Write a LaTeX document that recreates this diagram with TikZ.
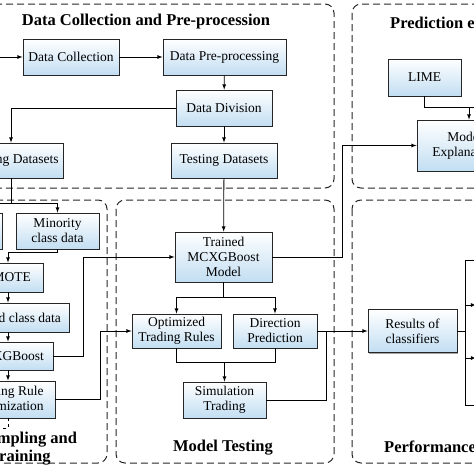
\documentclass[tikz,border=0pt]{standalone}
\usepackage{fontspec}
\setmainfont{Liberation Serif}
\usepackage{tikz}
\usetikzlibrary{calc}
\usetikzlibrary{arrows, shapes}
\usetikzlibrary{shadows}
\definecolor{boxblue}{rgb}{0.76,0.87,0.95}

\begin{document}
\begin{tikzpicture}[x=1pt, y=-1pt]
\tikzstyle{block}=[rectangle, draw=black!85, line width=.8, top color=white, bottom color=boxblue, drop shadow={shadow xshift=1.3pt, shadow yshift=-1.3pt, fill=black!60, opacity=.6}, align=center, font=\fontsize{13.5}{15}\selectfont, inner sep=1pt]
\tikzstyle{group}=[draw=black!85, dash pattern=on 7pt off 4pt, line width=1, rounded corners=9pt]
\tikzstyle{title}=[font=\fontsize{16.5}{18}\selectfont\bfseries, align=center, inner sep=0pt]
\tikzstyle{link}=[->, >=latex, line width=.8]

\useasboundingbox (0,0) rectangle (474,474);
\clip (0,0) rectangle (474,474);

% dashed stages
\draw[group] (-10,4) rectangle (334,188);
\draw[group] (352,4) rectangle (495,188);
\draw[group] (-10,200) rectangle (107,463);
\draw[group] (116,200) rectangle (334,463);
\draw[group] (352,200) rectangle (495,463);

\path (146,22) node[title](T1) {Data Collection and Pre-procession}
	  (390,25) node[title, anchor=west](T2) {Prediction explanation}
	  (20,449) node[title](T3) {Resampling and\\Training}
	  (223,448) node[title](T4) {Model Testing}
	  (384,447) node[title, anchor=west](T5) {Performance evaluation};

\path (71,57) node[block, minimum width=96, minimum height=36](DC) {Data Collection}
	  (224.5,57) node[block, minimum width=123, minimum height=36](DP) {Data Pre-processing}
	  (224,108) node[block, minimum width=96, minimum height=36](DD) {Data Division}
	  (11,160.5) node[block, minimum width=104, minimum height=35](TrD) {Training Datasets}
	  (224,160.5) node[block, minimum width=106, minimum height=35](TeD) {Testing Datasets}
	  (424.5,77.5) node[block, minimum width=73, minimum height=37](LIME) {LIME}
	  (465,145.5) node[block, minimum width=96, minimum height=51](ME) {Model\\Explanation}
	  (-40,231) node[block, minimum width=84, minimum height=36](Maj) {Majority\\class data}
	  (57.5,231) node[block, minimum width=83, minimum height=36](Min) {Minority\\class data}
	  (8,277.5) node[block, minimum width=70, minimum height=29](SM) {SMOTE}
	  (8,317.5) node[block, minimum width=122, minimum height=29](BC) {Balanced class data}
	  (8,356) node[block, minimum width=90, minimum height=28](MX) {MCXGBoost}
	  (8,399.5) node[block, minimum width=94, minimum height=37](TRO) {Trading Rule\\Optimization}
	  (223.5,257) node[block, minimum width=97, minimum height=50](TM) {Trained\\MCXGBoost\\Model}
	  (176.5,331) node[block, minimum width=89, minimum height=34](OTR) {Optimized\\Trading Rules}
	  (275,331) node[block, minimum width=84, minimum height=34](DiP) {Direction\\Prediction}
	  (224.5,400) node[block, minimum width=83, minimum height=36](ST) {Simulation\\Trading}
	  (412.5,331) node[block, minimum width=89, minimum height=43](RC) {Results of\\classifiers};

\coordinate (in) at (-10,57);
\coordinate (j1) at (11,203);
\coordinate (j2) at (224.5,362);
\coordinate (j3) at (326,331);
\coordinate (j4) at (469,107);
\coordinate (e5) at (495,107);
\coordinate (r0) at (465,331);
\coordinate (b1) at (465,260);
\coordinate (b2) at (465,305);
\coordinate (b3) at (465,358);
\coordinate (b4) at (465,405);
\coordinate (e1) at (495,260);
\coordinate (e2) at (476,305);
\coordinate (e3) at (476,358);
\coordinate (e4) at (495,405);

\draw[link] (in) -- (DC);
\draw[link] (DC) -- (DP);
\draw[link] (DP) -- (DD);
\draw[link] (DD) -| (TrD);
\draw[link] (DD) -- (TeD);
\draw[link] (TeD) -- (TM);
\draw[link] (TrD) -- (j1) -| (Min);
\draw[link] (j1) -| (Maj);
\draw[link] (Min.south) -- ++(0,3) -| (SM.north);
\draw[link] (SM) -- (BC);
\draw[link] (BC) -- (MX);
\draw[link] (MX) -- (TRO);
\draw[dashed, line width=.8] (TRO.south) -- ++(0,10) -- ++(-20,0);
\draw[link] (MX.east) -- ++(30,0) |- (TM.west);
\draw[link] (TRO.east) -- ++(45,0) |- (OTR.west);
\draw[link] (TM.south) -- ++(0,15) -| (OTR.north);
\draw[link] (TM.south) -- ++(0,15) -| (DiP.north);
\draw[line width=.8] (OTR.south) |- (j2);
\draw[line width=.8] (DiP.south) |- (j2);
\draw[link] (j2) -- (ST);
\draw[link] (DiP) -- (RC);
\draw[line width=.8] (ST.east) -| (j3);
\draw[link] (TM.east) -- ++(70,0) |- (ME.west);
\draw[line width=.8] (LIME.south) |- (j4);
\draw[link] (j4) -- (j4 |- ME.north);
\draw[line width=.8] (j4) -- (e5);
\draw[line width=.8] (RC) -- (r0);
\draw[line width=.8] (b1) -- (b4);
\draw[link] (b1) -- (e1);
\draw[link] (b2) -- (e2);
\draw[link] (b3) -- (e3);
\draw[link] (b4) -- (e4);

\end{tikzpicture}
\end{document}
